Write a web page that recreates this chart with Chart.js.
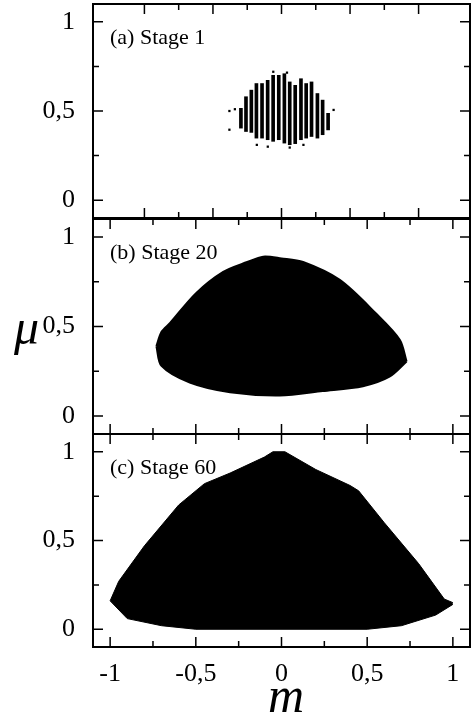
<!DOCTYPE html>
<html>
<head>
<meta charset="utf-8">
<script src="https://cdn.jsdelivr.net/npm/chart.js@4/dist/chart.umd.min.js"></script>
<style>
  body { margin: 0; background: #fff; }
  canvas { position: absolute; left: 0; }
  #mu { position: absolute; left: 14px; top: 298px; font: italic 50px "Liberation Serif", serif; }
  #m { position: absolute; left: 268px; top: 670px; font: italic 50px "Liberation Serif", serif; line-height: 1; }
</style>
</head>
<body>
<canvas id="ca" width="474" height="222" style="top:0"></canvas>
<canvas id="cb" width="474" height="219" style="top:215px"></canvas>
<canvas id="cc" width="474" height="289" style="top:430px"></canvas>
<div id="mu">μ</div>
<div id="m">m</div>
<script>
// stage 1: vertical stripes (m, low, high)
const stripeM = [-0.296, -0.259, -0.22, -0.183, -0.142, -0.101, -0.061, -0.02, 0.021, 0.06, 0.10, 0.142, 0.18, 0.219, 0.262, 0.30, 0.34];
const stripeLo = [0.404, 0.385, 0.38, 0.348, 0.348, 0.339, 0.33, 0.339, 0.32, 0.311, 0.317, 0.339, 0.348, 0.357, 0.348, 0.367, 0.394];
const stripeHi = [0.515, 0.58, 0.617, 0.654, 0.654, 0.672, 0.700, 0.70, 0.709, 0.663, 0.644, 0.681, 0.654, 0.663, 0.598, 0.561, 0.487];
const dotM = [-0.38, -0.34, -0.38, 0.38, 0.34, -0.06, 0.04, -0.18, -0.10, 0.16, 0.06];
const dotMu = [0.50, 0.51, 0.395, 0.506, 0.41, 0.72, 0.715, 0.31, 0.30, 0.31, 0.295];

// stage 20: boundary
const bUpM = [-0.73, -0.70, -0.65, -0.5, -0.34, -0.2, -0.107, 0, 0.126, 0.34, 0.55, 0.69, 0.73];
const bUpMu = [0.39, 0.47, 0.52, 0.685, 0.805, 0.86, 0.89, 0.88, 0.86, 0.76, 0.574, 0.426, 0.305];
const bLoM = [-0.73, -0.70, -0.535, -0.3, -0.01, 0.24, 0.475, 0.63, 0.73];
const bLoMu = [0.39, 0.28, 0.187, 0.133, 0.115, 0.14, 0.167, 0.22, 0.305];

// stage 60: boundary
const cUpM = [-1, -0.95, -0.8, -0.6, -0.45, -0.3, -0.1, -0.05, 0.02, 0.2, 0.4, 0.45, 0.6, 0.8, 0.95, 1];
const cUpMu = [0.16, 0.27, 0.47, 0.70, 0.82, 0.88, 0.97, 1.0, 1.0, 0.9, 0.81, 0.78, 0.6, 0.37, 0.17, 0.15];
const cLoM = [-1, -0.9, -0.7, -0.5, 0.5, 0.7, 0.9, 1];
const cLoMu = [0.16, 0.06, 0.02, 0.0, 0.0, 0.02, 0.08, 0.14];

const yTicks = [0, 0.5, 1];
const yMinor = [0.25, 0.75];
const xTicks = [-1, -0.5, 0, 0.5, 1];
const xMinor = [-0.75, -0.25, 0.25, 0.75];

const serif = '"Liberation Serif", "DejaVu Serif", serif';
const comma = v => String(v).replace('.', ',');
const pts = (xs, ys) => xs.map((x, i) => ({ x, y: ys[i] }));

const framePlugin = {
    id: 'frame',
    afterDraw(chart, args, opts) {
        const { ctx, chartArea: a, scales } = chart;
        ctx.save();
        ctx.strokeStyle = '#000';
        ctx.lineWidth = 2;
        ctx.strokeRect(a.left, a.top, a.right - a.left, a.bottom - a.top);
        ctx.lineWidth = 1.5;
        ctx.beginPath();
        yTicks.concat(yMinor).forEach(v => {
            const len = yTicks.includes(v) ? 10 : 6;
            const y = scales.y.getPixelForValue(v);
            ctx.moveTo(a.left, y); ctx.lineTo(a.left + len, y);
            ctx.moveTo(a.right, y); ctx.lineTo(a.right - len, y);
        });
        xTicks.concat(xMinor).forEach(v => {
            const len = xTicks.includes(v) ? 10 : 6;
            const x = scales.x.getPixelForValue(v);
            ctx.moveTo(x, a.top); ctx.lineTo(x, a.top + len);
            ctx.moveTo(x, a.bottom); ctx.lineTo(x, a.bottom - len);
        });
        ctx.stroke();
        ctx.fillStyle = '#000';
        ctx.font = '22px ' + serif;
        ctx.textBaseline = 'top';
        ctx.fillText(opts.label, a.left + 17, a.top + 23);
        ctx.restore();
    }
};

function makeChart(id, label, datasets, bottom) {
    new Chart(document.getElementById(id), {
        data: { datasets },
        plugins: [framePlugin],
        options: {
            responsive: false,
            animation: false,
            layout: { padding: { top: 4, right: 4, bottom: 0 } },
            plugins: { legend: { display: false }, tooltip: { enabled: false }, frame: { label } },
            scales: {
                x: {
                    type: 'linear', min: -1.1, max: 1.1,
                    display: bottom,
                    grid: { display: false },
                    border: { display: false },
                    afterBuildTicks: s => { s.ticks = xTicks.map(value => ({ value })); },
                    afterFit: s => { s.height = bottom ? 72 : 0; s.paddingLeft = 0; s.paddingRight = 0; },
                    ticks: { color: '#000', font: { family: serif, size: 26 }, padding: 4, maxRotation: 0, callback: comma }
                },
                y: {
                    min: -0.1, max: 1.1,
                    grid: { display: false },
                    border: { display: false },
                    afterBuildTicks: s => { s.ticks = yTicks.map(value => ({ value })); },
                    afterFit: s => { s.width = 93; s.paddingTop = 0; s.paddingBottom = 0; },
                    ticks: { color: '#000', font: { family: serif, size: 26 }, padding: 10, callback: comma }
                }
            }
        }
    });
}

makeChart('ca', '(a) Stage 1', [
    { type: 'bar', data: stripeM.map((m, i) => ({ x: m, y: [stripeLo[i], stripeHi[i]] })), backgroundColor: '#000', barThickness: 3 },
    { type: 'scatter', data: pts(dotM, dotMu), pointStyle: 'rect', pointRadius: 1.6, backgroundColor: '#000', borderWidth: 0 }
], false);

makeChart('cb', '(b) Stage 20', [
    { type: 'line', data: pts(bLoM, bLoMu), borderColor: '#000', borderWidth: 2, pointRadius: 0, fill: false, tension: 0.3 },
    { type: 'line', data: pts(bUpM, bUpMu), borderColor: '#000', borderWidth: 2, pointRadius: 0, fill: '-1', backgroundColor: '#000', tension: 0.3 }
], false);

makeChart('cc', '(c) Stage 60', [
    { type: 'line', data: pts(cLoM, cLoMu), borderColor: '#000', borderWidth: 1, pointRadius: 0, fill: false },
    { type: 'line', data: pts(cUpM, cUpMu), borderColor: '#000', borderWidth: 1, pointRadius: 0, fill: '-1', backgroundColor: '#000' }
], true);
</script>
</body>
</html>
